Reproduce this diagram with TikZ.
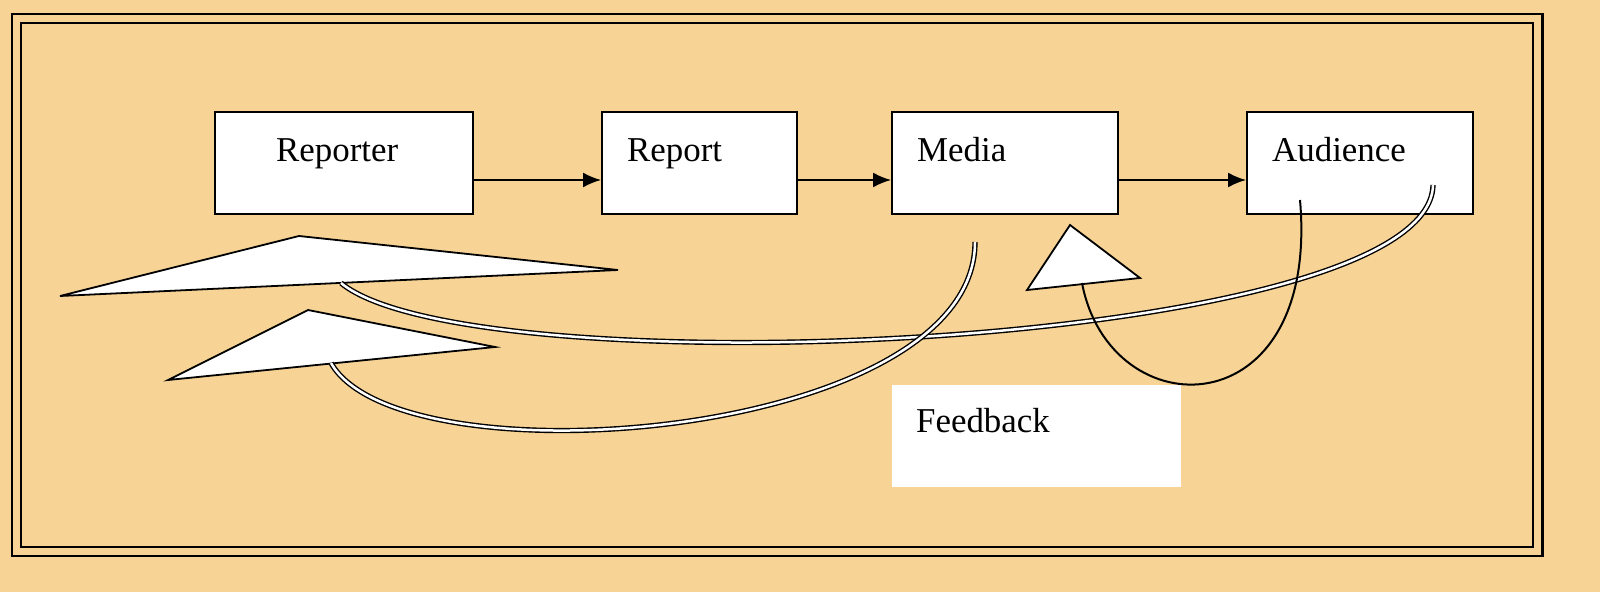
\documentclass[tikz,border=0pt]{standalone}
\usepackage{fontspec}
\setmainfont{Liberation Serif}
\usetikzlibrary{arrows.meta}
\definecolor{bg}{RGB}{247,211,150}
\begin{document}
\begin{tikzpicture}[x=1bp,y=-1bp,
 box/.style={draw,line width=2pt,fill=white,minimum width=#1,minimum height=102bp,inner sep=0pt,anchor=north west},
 lab/.style={font=\fontsize{35}{40}\selectfont,anchor=base west,inner sep=0pt},
 arr/.style={line width=1.8pt,-{Latex[length=18bp,width=15bp]}},
 tri/.style={draw,line width=1.8pt,fill=white},
 dbl/.style={draw,line width=1.4pt,double=white,double distance=2.5bp}]
\fill[bg] (0,0) rectangle (1600,592);
\useasboundingbox (0,0) rectangle (1600,592);
\draw[line width=3pt] (12,14) rectangle (1542,556);
\draw[line width=2.5pt] (21,23) rectangle (1533,547);
\node[box=258bp] (rep) at (214,111) {};
\node[box=195bp] (rpt) at (601,111) {};
\node[box=226bp] (med) at (891,111) {};
\node[box=226bp] (aud) at (1246,111) {};
\node[lab] at (276,162) {Reporter};
\node[lab] at (627,162) {Report};
\node[lab] at (917,162) {Media};
\node[lab] at (1272,162) {Audience};
\draw[arr] (472,180) -- (rpt.west |- 0,180);
\draw[arr] (796,180) -- (med.west |- 0,180);
\draw[arr] (1117,180) -- (aud.west |- 0,180);
\node[fill=white,minimum width=289bp,minimum height=102bp,anchor=north west,inner sep=0pt] (fb) at (892,385) {};
\node[lab] at (916,432) {Feedback};
\draw[tri] (299,236) -- (618,270) -- (60,296) -- cycle;
\draw[tri] (308,310) -- (495,347) -- (168,380) -- cycle;
\draw[tri] (1070,225) -- (1140,278) -- (1027,290) -- cycle;
\draw[dbl] (341,283) .. controls (470,390) and (1430,350) .. (1433,185);
\draw[dbl] (331,363) .. controls (400,485) and (975,440) .. (975,242);
\draw[line width=2pt] (1300,200) .. controls (1320,430) and (1110,430) .. (1082,283);
\end{tikzpicture}
\end{document}
